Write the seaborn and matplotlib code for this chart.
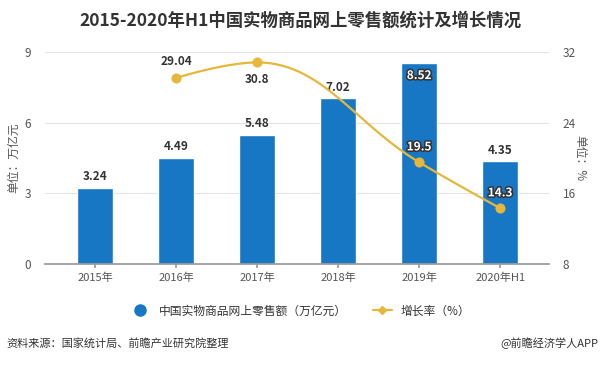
import numpy as np
import pandas as pd
import matplotlib
matplotlib.use('Agg')
import matplotlib.pyplot as plt
import matplotlib.patheffects as pe
from matplotlib.lines import Line2D
import seaborn as sns

years = ['2015年', '2016年', '2017年', '2018年', '2019年', '2020年H1']
sales = [3.24, 4.49, 5.48, 7.02, 8.52, 4.35]
growth_years = ['2016年', '2017年', '2019年', '2020年H1']
growth = [29.04, 30.8, 19.5, 14.3]

sns.set_theme(style='white')
plt.rcParams['font.family'] = ['Noto Sans CJK SC', 'DejaVu Sans']

bar_color = '#1777c4'
line_color = '#e5b73b'
text_gray = '#555555'

fig = plt.figure(figsize=(6.01, 3.65), dpi=100)
ax = fig.add_axes([0.075, 0.277, 0.838, 0.581])

df = pd.DataFrame({'year': years, 'sales': sales})
sns.barplot(data=df, x='year', y='sales', color=bar_color, width=0.44,
            saturation=1, ax=ax, zorder=2)
ax.set_xlim(-0.62, 5.6)
ax.set_ylim(0, 9)
ax.set_yticks([0, 3, 6, 9])
ax.grid(axis='y', color='#e3e3e3', lw=0.8, zorder=0)
for s in ['top', 'right', 'left']:
    ax.spines[s].set_visible(False)
ax.spines['bottom'].set_color('#999999')
ax.tick_params(axis='x', length=3, color='#999999', labelsize=8, labelcolor=text_gray, pad=3)
ax.tick_params(axis='y', length=0, labelsize=8.5, labelcolor=text_gray, pad=10)
ax.tick_params(axis='x', bottom=True)
ax.set_xlabel('')
ax.set_ylabel('单位：万亿元', fontsize=8.5, color=text_gray, labelpad=3)

outline = [pe.withStroke(linewidth=2.2, foreground='#333333')]
for i, v in enumerate(sales):
    if v > 8:
        ax.text(i, v - 0.25, f'{v:.2f}', ha='center', va='top', fontsize=8.5,
                fontweight='bold', color='white', path_effects=outline, zorder=5)
    else:
        ax.text(i, v + 0.2, f'{v:.2f}', ha='center', va='bottom', fontsize=8.5,
                fontweight='bold', color='#333333', zorder=5)

ax2 = ax.twinx()
ax2.set_ylim(8, 32)
ax2.set_yticks([8, 16, 24, 32])
for s in ['top', 'right', 'left', 'bottom']:
    ax2.spines[s].set_visible(False)
ax2.tick_params(axis='y', length=0, labelsize=8.5, labelcolor=text_gray, pad=10)
ax2.set_ylabel('单位：%', fontsize=8.5, color=text_gray, rotation=270, labelpad=8)

# spline: bezier segments, control points at 1/2.5 of the neighbour
# distance, tangent kept through the point, flat at local extremes
gx = np.array([years.index(y) for y in growth_years], dtype=float)
gy = np.array(growth, dtype=float)
sm = 1.5
n = len(gx)
lc = [None] * n
rc = [None] * n
for i in range(n):
    if i == 0 or i == n - 1:
        lc[i] = (gx[i], gy[i])
        rc[i] = (gx[i], gy[i])
        continue
    lx = (sm * gx[i] + gx[i - 1]) / (sm + 1)
    ly = (sm * gy[i] + gy[i - 1]) / (sm + 1)
    rx = (sm * gx[i] + gx[i + 1]) / (sm + 1)
    ry = (sm * gy[i] + gy[i + 1]) / (sm + 1)
    if (gy[i] - gy[i - 1]) * (gy[i + 1] - gy[i]) <= 0:
        ly = ry = gy[i]
    else:
        corr = gy[i] - (ly + (ry - ly) * (gx[i] - lx) / (rx - lx))
        ly += corr
        ry += corr
    lc[i] = (lx, ly)
    rc[i] = (rx, ry)
cx, cy = [], []
t = np.linspace(0, 1, 60)
for i in range(n - 1):
    p0 = (gx[i], gy[i])
    p1 = rc[i]
    p2 = lc[i + 1]
    p3 = (gx[i + 1], gy[i + 1])
    for k, out in ((0, cx), (1, cy)):
        out.extend((1 - t) ** 3 * p0[k] + 3 * (1 - t) ** 2 * t * p1[k]
                   + 3 * (1 - t) * t ** 2 * p2[k] + t ** 3 * p3[k])
ax2.plot(cx, cy, color=line_color, lw=1.6, zorder=3)
sns.scatterplot(x=gx, y=gy, color=line_color, s=45, edgecolor=line_color, ax=ax2, zorder=4)

offsets = {0: (0, 1.1, 'bottom'), 1: (0, -1.2, 'top'), 2: (0, 1.0, 'bottom'), 3: (0, 1.0, 'bottom')}
for k, (x, v) in enumerate(zip(gx, gy)):
    dx, dy, va = offsets[k]
    inside = x >= 4
    ax2.text(x + dx, v + dy, f'{v:g}', ha='center', va=va, fontsize=8.5, fontweight='bold',
             color='white' if inside else '#333333',
             path_effects=outline if inside else None, zorder=6)

handles = [Line2D([0], [0], marker='o', color='none', markerfacecolor=bar_color,
                  markeredgecolor=bar_color, markersize=8),
           Line2D([0], [0], marker='D', color=line_color, markerfacecolor=line_color,
                  markersize=4, lw=1.6)]
fig.legend(handles, ['中国实物商品网上零售额（万亿元）', '增长率（%）'], loc='center',
           bbox_to_anchor=(0.5, 0.148), ncol=2, frameon=False, fontsize=8.5,
           handlelength=1.6, columnspacing=2.2, labelcolor='#333333')

fig.text(0.5, 0.943, '2015-2020年H1中国实物商品网上零售额统计及增长情况', ha='center', va='center',
         fontsize=12.5, fontweight='bold', color='#333333')
fig.text(0.01, 0.06, '资料来源：国家统计局、前瞻产业研究院整理', ha='left', va='center',
         fontsize=8, color='#333333')
fig.text(0.995, 0.06, '@前瞻经济学人APP', ha='right', va='center', fontsize=8, color='#333333')

fig.savefig('out.png', dpi=100, facecolor='white')
